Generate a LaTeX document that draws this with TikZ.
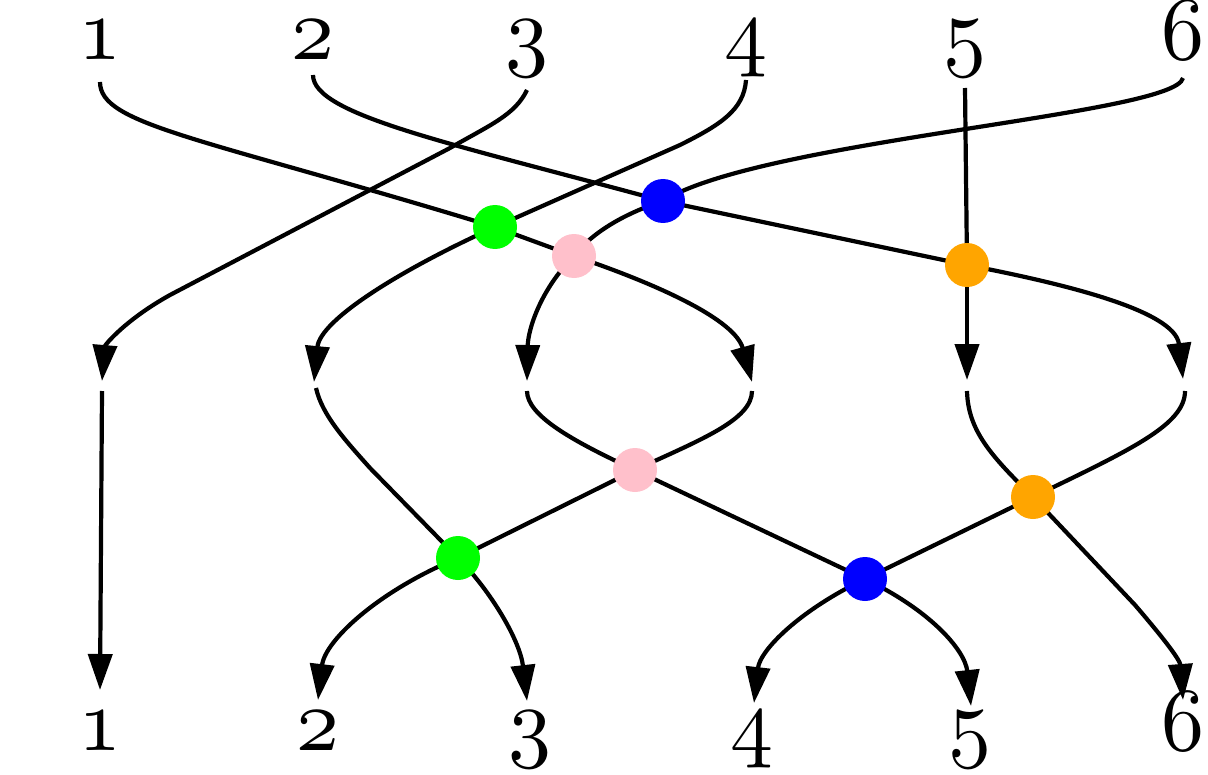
\documentclass[tikz,border=0pt]{standalone}
\usetikzlibrary{arrows.meta}
\pgfdeclarelayer{bg}
\pgfsetlayers{bg,main}
\definecolor{dgreen}{RGB}{0,255,0}
\definecolor{dblue}{RGB}{0,0,255}
\definecolor{dpink}{RGB}{255,192,203}
\definecolor{dorange}{RGB}{255,165,0}
\newcommand\osnum[1]{\scalebox{4.3}[4.5]{\fontsize{10}{12}\usefont{OML}{cmm}{m}{it}#1}}
\tikzset{
  lbl/.style={anchor=base, inner sep=0pt},
  dot/.style={circle, inner sep=0pt, minimum size=22pt},
  edg/.style={line width=2.1pt},
  arr/.style={line width=2.1pt, -{Triangle[length=18pt,width=12pt]}},
}
\begin{document}
\begin{tikzpicture}[x=0.5pt,y=-0.5pt]
\useasboundingbox (0,0) rectangle (1208,775);
% labels
\node[lbl] (t1) at (100,60) {\osnum{1}};
\node[lbl] (t2) at (313,60) {\osnum{2}};
\node[lbl] (t3) at (527,60) {\osnum{3}};
\node[lbl] (t4) at (746,60) {\osnum{4}};
\node[lbl] (t5) at (965,60) {\osnum{5}};
\node[lbl] (t6) at (1183,60) {\osnum{6}};
\node[lbl] (b1) at (100,750) {\osnum{1}};
\node[lbl] (b2) at (318,750) {\osnum{2}};
\node[lbl] (b3) at (530,750) {\osnum{3}};
\node[lbl] (b4) at (752,750) {\osnum{4}};
\node[lbl] (b5) at (970,750) {\osnum{5}};
\node[lbl] (b6) at (1183,750) {\osnum{6}};
% edge start points below top labels
\coordinate (s1) at (100,82);
\coordinate (s2) at (313,75);
\coordinate (s3) at (527,90);
\coordinate (s4) at (746,80);
\coordinate (s5) at (965,88);
\coordinate (s6) at (1183,78);
% middle invisible points
\coordinate (ma1) at (102,381); \coordinate (mb1) at (102,391);
\coordinate (ma2) at (314,382); \coordinate (mb2) at (316,388);
\coordinate (ma3) at (527,381); \coordinate (mb3) at (527,391);
\coordinate (ma4) at (752,382); \coordinate (mb4) at (752,391);
\coordinate (ma5) at (967,380); \coordinate (mb5) at (967,391);
\coordinate (ma6) at (1183,379); \coordinate (mb6) at (1185,391);
% arrow tips above bottom labels
\coordinate (e1) at (100,690);
\coordinate (e2) at (318,700);
\coordinate (e3) at (527,701);
\coordinate (e4) at (754,703);
\coordinate (e5) at (971,706);
\coordinate (e6) at (1183,700);
% dots
\node[dot, fill=dgreen]  (g1) at (495,227) {};
\node[dot, fill=dblue]   (u1) at (663,201) {};
\node[dot, fill=dpink]   (p1) at (574,256) {};
\node[dot, fill=dorange] (o1) at (967,265) {};
\node[dot, fill=dpink]   (p2) at (635,470) {};
\node[dot, fill=dorange] (o2) at (1033,497) {};
\node[dot, fill=dgreen]  (g2) at (458,558) {};
\node[dot, fill=dblue]   (u2) at (865,579) {};
\begin{pgfonlayer}{bg}
% top half
\draw[edg] (s1) .. controls (100,125) and (200,137) .. (g1.center);
\draw[edg] (g1.center) -- (p1.center);
\draw[arr] (p1.center) .. controls (660,285) and (735,320) .. (ma4);
\draw[edg] (s2) .. controls (313,115) and (450,143) .. (u1.center);
\draw[edg] (u1.center) -- (o1.center);
\draw[arr] (o1.center) .. controls (1060,283) and (1175,310) .. (ma6);
\draw[arr] (s3) .. controls (515,115) and (490,125) .. (450,148) -- (170,295) .. controls (125,320) and (105,345) .. (ma1);
\draw[edg] (s4) .. controls (744,110) and (720,125) .. (680,145) -- (g1.center);
\draw[arr] (g1.center) .. controls (400,270) and (320,320) .. (ma2);
\draw[edg] (s5) -- (o1.center);
\draw[arr] (o1.center) -- (ma5);
\draw[edg] (s6) .. controls (1175,115) and (760,140) .. (u1.center);
\draw[edg] (u1.center) .. controls (620,215) and (590,235) .. (p1.center);
\draw[arr] (p1.center) .. controls (540,290) and (528,330) .. (ma3);
% bottom half
\draw[arr] (mb1) -- (e1);
\draw[edg] (mb2) .. controls (322,415) and (345,440) .. (370,468) -- (g2.center);
\draw[edg] (mb3) .. controls (527,415) and (570,440) .. (p2.center);
\draw[edg] (mb4) .. controls (752,420) and (700,440) .. (p2.center);
\draw[edg] (p2.center) -- (g2.center);
\draw[edg] (p2.center) -- (u2.center);
\draw[edg] (mb5) .. controls (968,430) and (990,455) .. (o2.center);
\draw[edg] (mb6) .. controls (1185,425) and (1130,450) .. (o2.center);
\draw[edg] (o2.center) -- (u2.center);
\draw[arr] (o2.center) -- (1135,605) .. controls (1165,640) and (1180,660) .. (e6);
\draw[arr] (g2.center) .. controls (380,590) and (325,640) .. (e2);
\draw[arr] (g2.center) .. controls (490,590) and (520,640) .. (e3);
\draw[arr] (u2.center) .. controls (800,610) and (760,650) .. (e4);
\draw[arr] (u2.center) .. controls (930,610) and (965,650) .. (e5);
\end{pgfonlayer}
\end{tikzpicture}
\end{document}
